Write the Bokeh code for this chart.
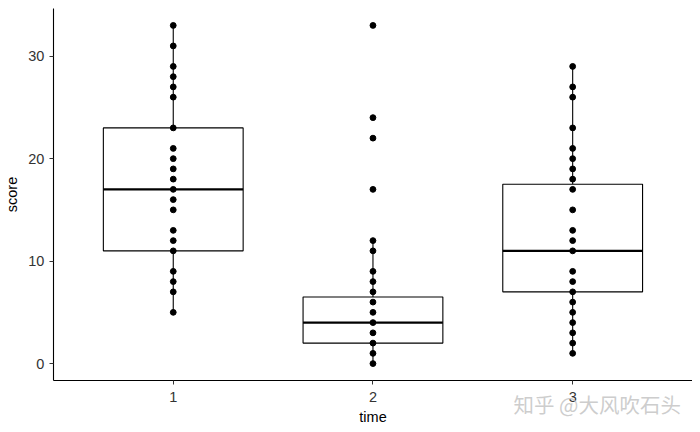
from bokeh.plotting import figure
from bokeh.models import Range1d, FixedTicker, Label, ColumnDataSource
from bokeh.embed import file_html
from bokeh.resources import INLINE

# ---- data ----
times = [1, 2, 3]
tick_labels = ["1", "2", "3"]
scores_t1 = [33, 31, 29, 28, 27, 26, 23, 21, 20, 19, 18, 17, 16, 15, 13, 12, 11, 9, 8, 7, 5]
scores_t2 = [33, 24, 22, 17, 12, 11, 9, 8, 7, 6, 5, 4, 3, 2, 1, 0]
scores_t3 = [29, 27, 26, 23, 21, 20, 19, 18, 17, 15, 13, 12, 11, 9, 8, 7, 6, 5, 4, 3, 2, 1]
q1 = [11, 2, 7]
median = [17, 4, 11]
q3 = [23, 6.5, 17.5]
whisker_low = [5, 0, 1]
whisker_high = [33, 12, 29]
y_ticks = [0, 10, 20, 30]

BOX_W = 0.7
X_LO, X_HI = 0.4, 3.6       # panel limits (x)
Y_LO, Y_HI = -1.65, 34.65   # panel limits (y)

# the frame covers the whole canvas; axes are pinned at the panel limits
p = figure(width=692, height=424, output_backend="svg", toolbar_location=None,
           x_range=Range1d(X_LO - 53 / 200, X_HI),
           y_range=Range1d(Y_LO - 44 / 10.247, Y_HI + 8 / 10.247),
           min_border=0)
p.outline_line_color = None
p.grid.visible = False
p.background_fill_color = "white"

# whiskers
p.segment(x0=times, y0=whisker_low, x1=times, y1=q1, line_color="black", line_width=1.1)
p.segment(x0=times, y0=q3, x1=times, y1=whisker_high, line_color="black", line_width=1.1)
# boxes
p.vbar(x=times, bottom=q1, top=q3, width=BOX_W, fill_color="white",
       line_color="black", line_width=1.1)
# median
p.segment(x0=[t - BOX_W / 2 for t in times], y0=median,
          x1=[t + BOX_W / 2 for t in times], y1=median,
          line_color="black", line_width=2.2)

# points
for t, s in zip(times, [scores_t1, scores_t2, scores_t3]):
    src = ColumnDataSource(dict(x=[t] * len(s), y=s))
    p.scatter("x", "y", source=src, size=5.8, fill_color="black", line_color="black")

# axes
for ax in (p.xaxis[0], p.yaxis[0]):
    ax.axis_line_color = "black"
    ax.axis_line_width = 1.1
    ax.major_tick_line_color = "#333333"
    ax.major_tick_in = 0
    ax.major_tick_out = 4
    ax.minor_tick_line_color = None
    ax.major_label_text_font = "Liberation Sans"
    ax.major_label_text_font_size = "14.5px"
    ax.major_label_text_color = "#333333"
    ax.axis_label_text_font = "Liberation Sans"
    ax.axis_label_text_font_size = "14.5px"
    ax.axis_label_text_font_style = "normal"
    ax.axis_label_text_color = "black"

p.xaxis.fixed_location = Y_LO
p.xaxis.bounds = (X_LO, X_HI)
p.yaxis.fixed_location = X_LO
p.yaxis.bounds = (Y_LO, Y_HI)

p.xaxis.major_label_standoff = 8
p.xaxis.axis_label_standoff = 3
p.yaxis.major_label_standoff = 5
p.yaxis.axis_label_standoff = 5

p.xaxis.ticker = FixedTicker(ticks=times)
p.xaxis.major_label_overrides = {t: l for t, l in zip(times, tick_labels)}
p.yaxis.ticker = FixedTicker(ticks=y_ticks)
p.xaxis.axis_label = "time"
p.yaxis.axis_label = "score"

wm = Label(x=513, y=21, x_units="screen", y_units="screen", text="知乎 @大风吹石头",
           text_font="Noto Sans CJK SC", text_font_size="20.5px", text_color="#c4c4c4",
           text_baseline="middle", text_alpha=0.85, level="overlay")
p.add_layout(wm)

open("out.html", "w").write(file_html(p, INLINE))
